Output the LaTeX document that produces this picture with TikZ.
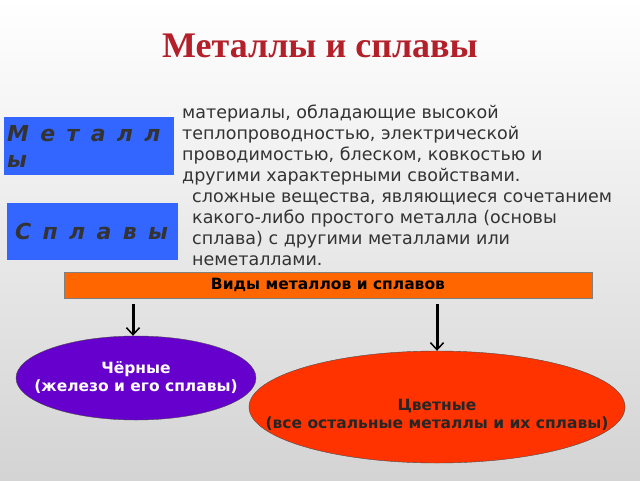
\documentclass[tikz,border=0pt]{standalone}
\usepackage{fontspec}
\setmainfont{DejaVu Sans}
\newfontfamily\titlefont{Liberation Serif}
\usetikzlibrary{arrows.meta}
\usetikzlibrary{shapes.geometric}
\definecolor{termblue}{HTML}{3366FF}
\definecolor{barorange}{HTML}{FF6600}
\definecolor{blackpurple}{HTML}{6600CC}
\definecolor{colorred}{HTML}{FF3300}
\definecolor{textgray}{HTML}{333333}
\definecolor{titlered}{HTML}{B3202A}
\newcommand\gap{\ \hspace{4pt}}
\tikzset{
  term/.style={fill=termblue, inner sep=3pt, text width=#1, align=left,
    font=\fontsize{22}{26}\selectfont\bfseries\itshape, text=textgray},
  defn/.style={anchor=north west, inner sep=0pt, align=left,
    font=\fontsize{17.5}{21}\selectfont, text=textgray},
  kind/.style={ellipse, draw=black!70, inner sep=0pt},
  kindtext/.style={align=center, font=\fontsize{15.5}{18}\selectfont\bfseries},
  down/.style={line width=3pt, -{Straight Barb[length=7pt,width=13pt,line width=1.5pt]}},
}
\begin{document}
\begin{tikzpicture}[x=1pt,y=-1pt]
  \shade[top color=white, bottom color=black!17] (0,0) rectangle (640,480);
  \useasboundingbox (0,0) rectangle (640,480);
  \node (title) [font=\titlefont\fontsize{36}{40}\selectfont\bfseries, text=titlered] at (320,46) {Металлы и сплавы};

  \node (met) [term=164pt, minimum height=58pt, anchor=north west] at (4,117)
    {М\gap е\gap т\gap а\gap л\gap л\gap ы};
  \node (spl) [term=165pt, minimum height=57pt, anchor=north west] at (7,203)
    {\hspace*{5pt}С\gap п\gap л\gap а\gap в\gap ы};
  \node (metdef) [defn] at (182,105) {материалы, обладающие высокой\\теплопроводностью, электрической\\проводимостью, блеском, ковкостью и\\другими характерными свойствами.};
  \node (spldef) [defn] at (192,192) {сложные вещества, являющиеся сочетанием\\какого-либо простого металла (основы\\сплава) с другими металлами или\\неметаллами.};

  \node (kinds) [fill=barorange, draw=black!50, minimum width=528pt, minimum height=26pt,
    font=\fontsize{15.5}{18}\selectfont\bfseries] at (328,285) {Виды металлов и сплавов};

  \node (black) [kind, fill=blackpurple, minimum width=240pt, minimum height=84pt] at (136,378) {};
  \node (blacktext) [kindtext, text=white] at (black.center) {Чёрные\\(железо и его сплавы)};
  \node (color) [kind, fill=colorred, minimum width=376pt, minimum height=112pt] at (437,407) {};
  \node (colortext) [kindtext, text=black!85, yshift=-8pt] at (color.center) {Цветные\\(все остальные металлы и их сплавы)};

  \coordinate (lt) at (133,304);
  \coordinate (rt) at (437,304);
  \draw[down] (lt) -- (black.north -| lt);
  \draw[down] (rt) -- (color.north -| rt);
\end{tikzpicture}
\end{document}
